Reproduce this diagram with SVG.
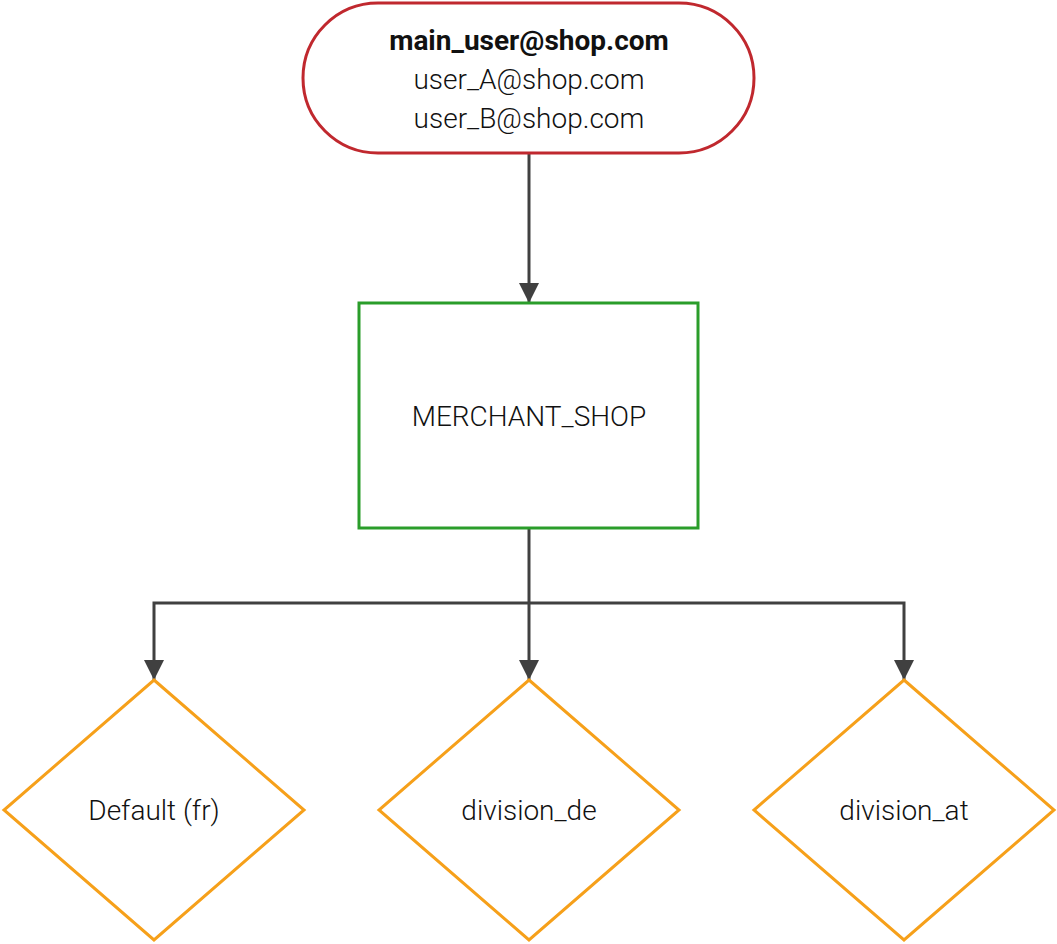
<svg xmlns="http://www.w3.org/2000/svg" width="1057" height="944" viewBox="0 0 1057 944">
<style>
text{font-family:Roboto,"Liberation Sans",sans-serif;font-size:28px;font-weight:300;fill:#111;text-anchor:middle}
.c{stroke:#404040;stroke-width:3;fill:none}
.d{fill:#fff;stroke:#f6a01a;stroke-width:3}
</style>
<defs><marker id="a" viewBox="0 0 10 10" refX="10" refY="5" markerWidth="7" markerHeight="7" orient="auto" markerUnits="userSpaceOnUse"><path d="M0,0L10,5L0,10z" fill="#404040"/></marker>
<marker id="b" viewBox="0 0 20 30" refX="20" refY="10" markerWidth="20" markerHeight="30" orient="auto" markerUnits="userSpaceOnUse"><path d="M0,0L20,10L0,20z" fill="#404040"/></marker></defs>
<rect width="1057" height="944" fill="#fff"/>
<g id="connectors">
<path class="c" d="M529,153V303" marker-end="url(#b)"/>
<path class="c" d="M529,528V680" marker-end="url(#b)"/>
<path class="c" d="M529,603H154V680" marker-end="url(#b)"/>
<path class="c" d="M529,603H904V680" marker-end="url(#b)"/>
</g>
<g id="users"><rect x="303" y="3" width="451" height="150" rx="75" fill="#fff" stroke="#c0282e" stroke-width="3"/>
<text x="529" y="50" style="font-weight:700">main_user@shop.com</text>
<text x="529" y="89">user_A@shop.com</text>
<text x="529" y="128">user_B@shop.com</text></g>
<g id="shop"><rect x="359" y="303" width="339" height="225" fill="#fff" stroke="#2a9d2a" stroke-width="3"/>
<text x="529" y="426">MERCHANT_SHOP</text></g>
<g id="fr"><path class="d" d="M154,680L304,810L154,940L4,810z"/><text x="154" y="820">Default (fr)</text></g>
<g id="de"><path class="d" d="M529,680L679,810L529,940L379,810z"/><text x="529" y="820">division_de</text></g>
<g id="at"><path class="d" d="M904,680L1054,810L904,940L754,810z"/><text x="904" y="820">division_at</text></g>
</svg>
